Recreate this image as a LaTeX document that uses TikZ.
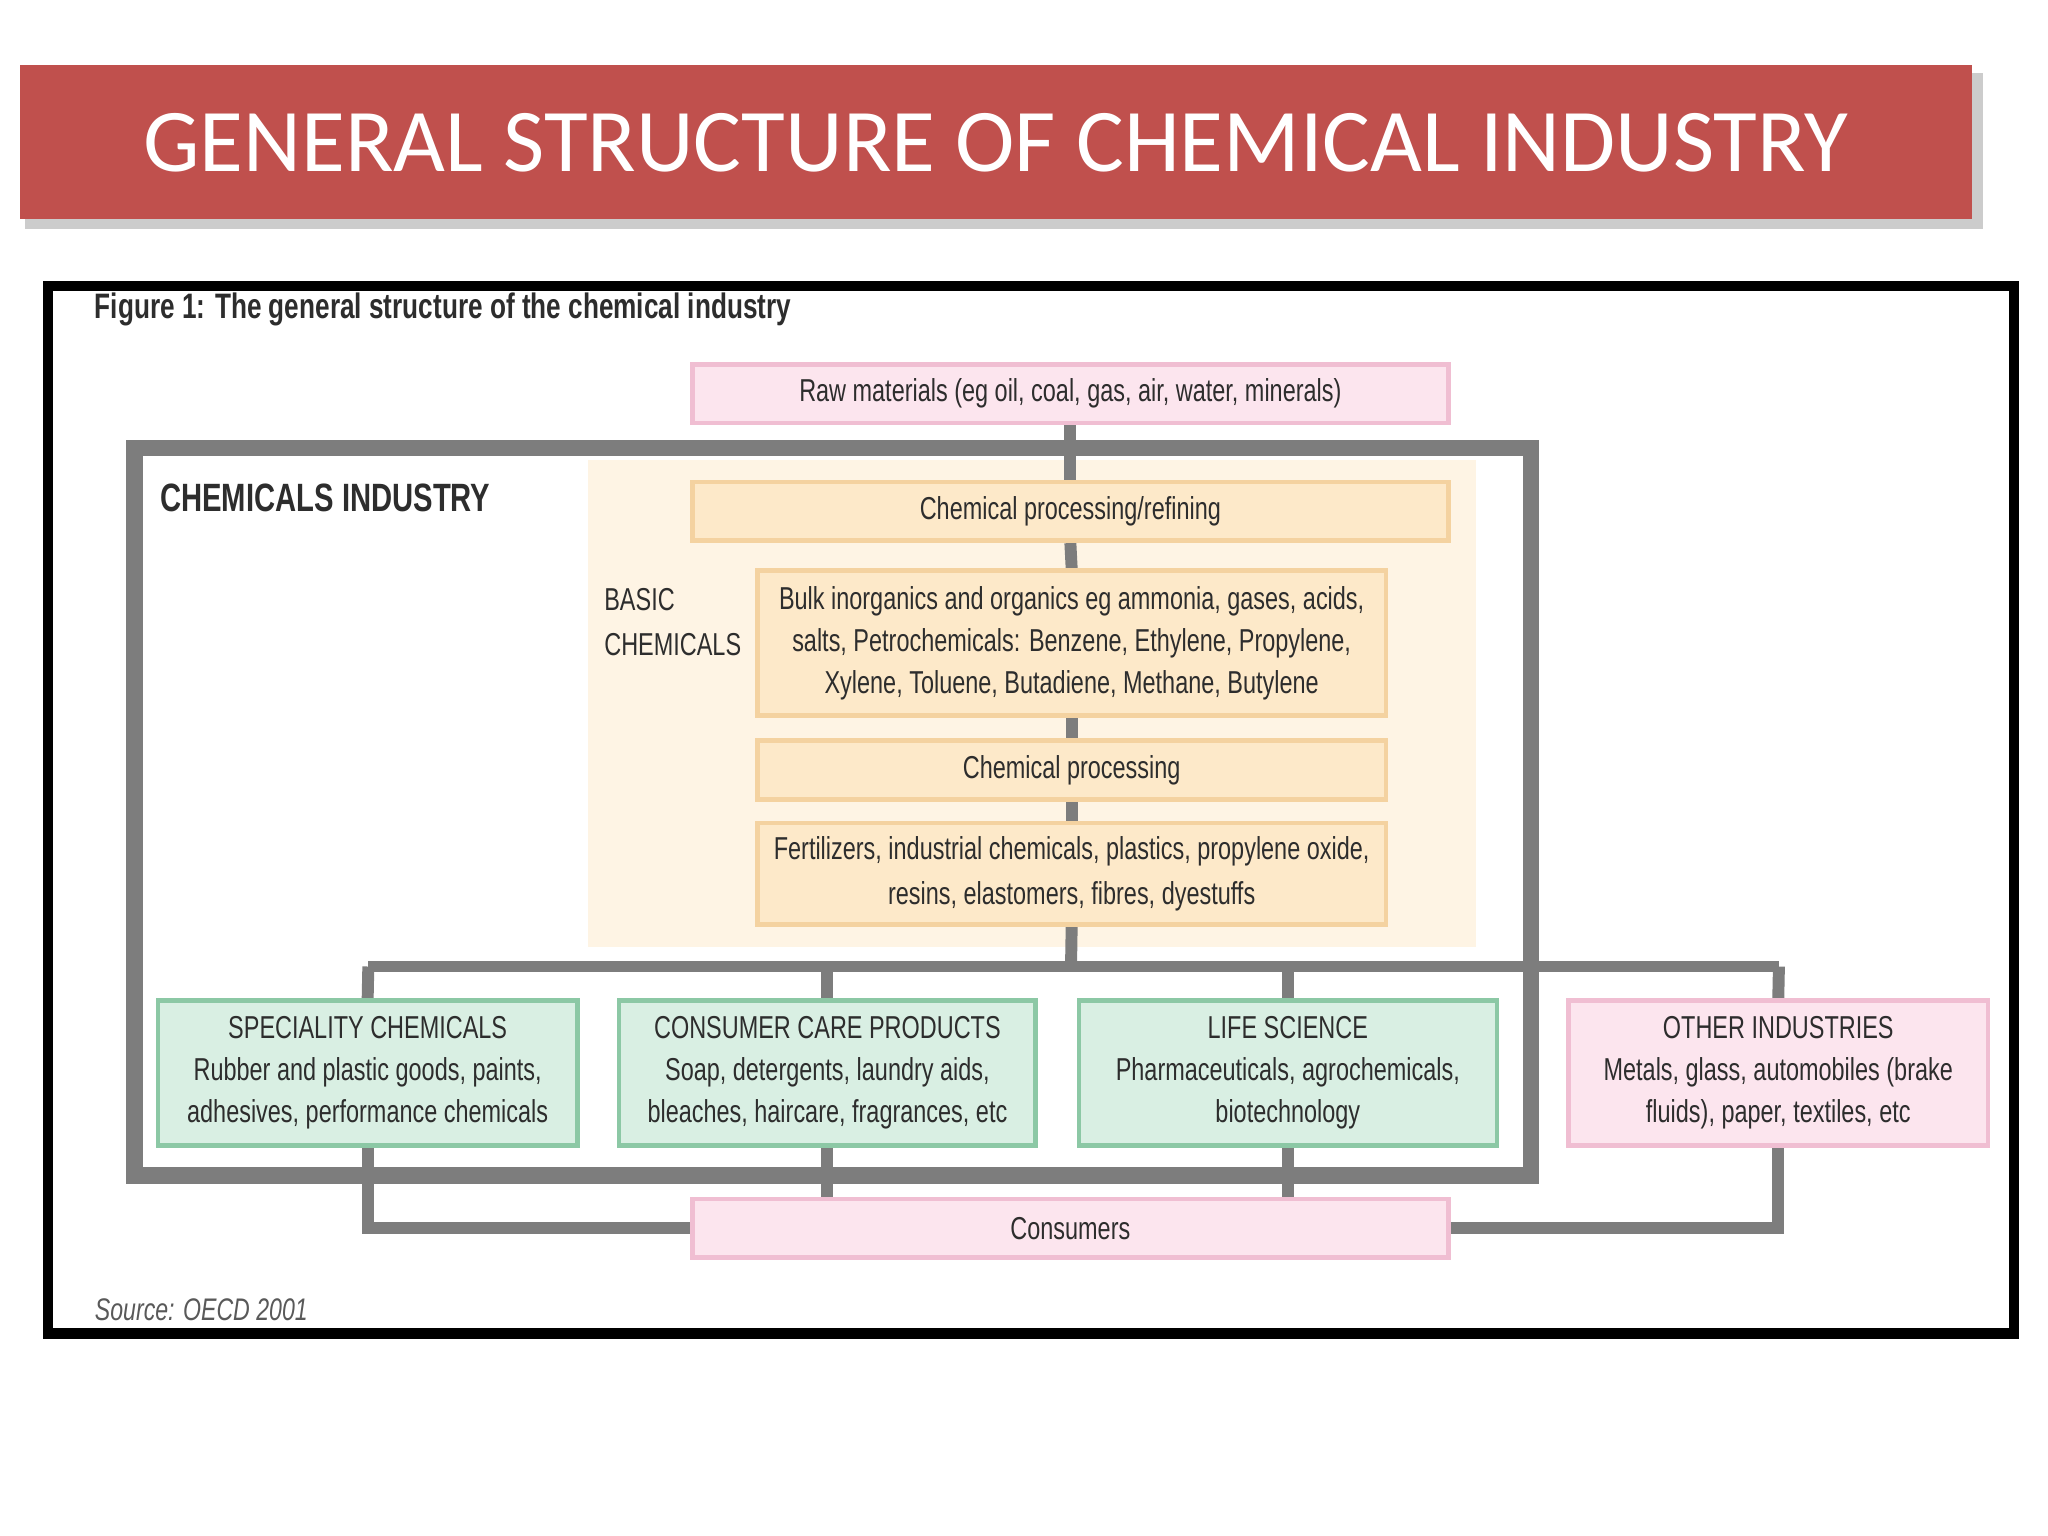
\documentclass[tikz,border=0pt]{standalone}
\usepackage{fontspec}
\setmainfont{Liberation Sans}
\newfontfamily\cond[FakeStretch=0.74]{Liberation Sans}
\newfontfamily\titf{Carlito}
\usetikzlibrary{fit}
\pgfdeclarelayer{back}
\pgfdeclarelayer{bg}
\pgfsetlayers{back,bg,main}
\definecolor{titred}{RGB}{192,80,77}
\definecolor{pinkf}{RGB}{252,229,238}
\definecolor{pinkb}{RGB}{240,190,210}
\definecolor{beige}{RGB}{254,244,228}
\definecolor{orf}{RGB}{253,233,201}
\definecolor{orb}{RGB}{244,210,160}
\definecolor{grf}{RGB}{217,239,227}
\definecolor{grb}{RGB}{140,200,165}
\definecolor{ln}{RGB}{125,125,125}
\definecolor{tx}{RGB}{45,45,45}
\begin{document}
\begin{tikzpicture}[x=0.01cm,y=-0.01cm,
  box/.style={draw,inner sep=0pt,line width=1pt},
  pk/.style={box,fill=pinkf,draw=pinkb},
  ob/.style={box,fill=orf,draw=orb},
  gb/.style={box,fill=grf,draw=grb},
  t/.style={text=tx,font=\cond\fontsize{6.9}{9.1}\selectfont,align=center,inner sep=0pt},
  con/.style={draw=ln,line width=2.6pt}]
\useasboundingbox (0,0) rectangle (1568,1176);
\fill[gray!40] (19,56) rectangle (1518,175);
\node[fill=titred,inner sep=0pt,fit={(15,50)(1510,168)}] (title) {};
\node[text=white,font=\titf\fontsize{19.5}{22}\selectfont] (titlet) at (title.center) {GENERAL STRUCTURE OF CHEMICAL INDUSTRY};
\draw[line width=2.2pt] (37,219) rectangle (1542,1021);
\node[anchor=west,inner sep=0pt,text=tx,font=\cond\bfseries\fontsize{7.7}{10}\selectfont] (cap) at (72,237) {Figure 1: The general structure of the chemical industry};
\begin{pgfonlayer}{back}
\fill[beige] (450,352) rectangle (1130,725);
\draw[ln,line width=3.6pt] (103,343) rectangle (1172,900);
\end{pgfonlayer}
\node[anchor=west,inner sep=0pt,text=tx,font=\cond\bfseries\fontsize{8.6}{12}\selectfont] (ci) at (122,381) {CHEMICALS INDUSTRY};
\node[anchor=north west,t,align=left,font=\cond\fontsize{6.9}{9.8}\selectfont] (bc) at (462,450) {BASIC\\CHEMICALS};
\node[pk,fit={(530,279)(1109,324)}] (raw) {};
\node[ob,fit={(530,369)(1109,414)}] (cpr) {};
\node[ob,fit={(580,437)(1061,548)}] (bulk) {};
\node[ob,fit={(580,567)(1061,612)}] (cp) {};
\node[ob,fit={(580,630)(1061,708)}] (fert) {};
\node[gb,fit={(121,766)(442,877)}] (sc) {};
\node[gb,fit={(474,766)(793,877)}] (cc) {};
\node[gb,fit={(826,766)(1146,877)}] (ls) {};
\node[pk,fit={(1201,766)(1522,877)}] (oi) {};
\node[pk,fit={(530,918)(1109,963)}] (cons) {};
\node[t] (rawt) at (raw.center) {Raw materials (eg oil, coal, gas, air, water, minerals)};
\node[t] (cprt) at (cpr.center) {Chemical processing/refining};
\node[t] (bulkt) at (bulk.center) {Bulk inorganics and organics eg ammonia, gases, acids,\\salts, Petrochemicals: Benzene, Ethylene, Propylene,\\Xylene, Toluene, Butadiene, Methane, Butylene};
\node[t] (cpt) at (cp.center) {Chemical processing};
\node[t,font=\cond\fontsize{6.9}{9.6}\selectfont] (fertt) at (fert.center) {Fertilizers, industrial chemicals, plastics, propylene oxide,\\resins, elastomers, fibres, dyestuffs};
\node[t] (sct) at (sc.center) {SPECIALITY CHEMICALS\\Rubber and plastic goods, paints,\\adhesives, performance chemicals};
\node[t] (cct) at (cc.center) {CONSUMER CARE PRODUCTS\\Soap, detergents, laundry aids,\\bleaches, haircare, fragrances, etc};
\node[t] (lst) at (ls.center) {LIFE SCIENCE\\Pharmaceuticals, agrochemicals,\\biotechnology};
\node[t] (oit) at (oi.center) {OTHER INDUSTRIES\\Metals, glass, automobiles (brake\\fluids), paper, textiles, etc};
\node[t] (const) at (cons.center) {Consumers};
\coordinate (hub) at (820,740);
\coordinate (hl) at (282,740);
\coordinate (hr) at (1362,740);
\begin{pgfonlayer}{bg}
\draw[con] (raw.south) -- (cpr.north);
\draw[con] (cpr.south) -- (bulk.north);
\draw[con] (bulk.south) -- (cp.north);
\draw[con] (cp.south) -- (fert.north);
\draw[con] (fert.south) -- (hub);
\draw[con] (hl) -- (hr);
\draw[con] (hl) -- (sc.north);
\draw[con] (cc.north |- hub) -- (cc.north);
\draw[con] (ls.north |- hub) -- (ls.north);
\draw[con] (hr) -- (oi.north);
\draw[con] (sc.south) |- (cons.west);
\draw[con] (cc.south) -- (cc.south |- cons.north);
\draw[con] (ls.south) -- (ls.south |- cons.north);
\draw[con] (oi.south) |- (cons.east);
\end{pgfonlayer}
\node[anchor=west,inner sep=0pt,text=gray!70!black,font=\cond\itshape\fontsize{6.8}{9}\selectfont] (src) at (72,1003) {Source: OECD 2001};
\end{tikzpicture}
\end{document}
